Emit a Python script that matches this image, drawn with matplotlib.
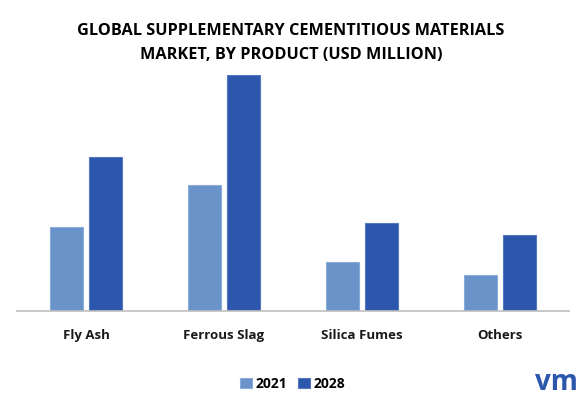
import matplotlib
matplotlib.use("Agg")
import matplotlib.pyplot as plt
import numpy as np

products = ["Fly Ash", "Ferrous Slag", "Silica Fumes", "Others"]
years = ["2021", "2028"]
values_2021 = [84, 126, 49, 36]
values_2028 = [154, 236, 88, 76]

colors = ["#6993C9", "#2D56AD"]
edge_colors = ["#8AADDA", "#5577C0"]

plt.rcParams['font.family'] = ['Open Sans', 'DejaVu Sans']

fig = plt.figure(figsize=(5.82, 3.98), dpi=100)
ax = fig.add_axes([17 / 582, 1 - 311 / 398, 552 / 582, 236 / 398])

x = np.arange(len(products))
width = 0.239
offset = 0.138
ax.bar(x - offset, values_2021, width, color=colors[0], edgecolor=edge_colors[0],
       linewidth=0.8, label=years[0])
ax.bar(x + offset, values_2028, width, color=colors[1], edgecolor=edge_colors[1],
       linewidth=0.8, label=years[1])

ax.set_xlim(-0.5, len(products) - 0.5)
ax.set_ylim(0, 236)
ax.set_xticks(x)
ax.set_xticklabels(products, fontsize=9.5, fontweight='bold', color='#1a1a1a')
ax.tick_params(axis='x', length=0, pad=13)
ax.set_yticks([])
for side in ['top', 'right', 'left']:
    ax.spines[side].set_visible(False)
ax.spines['bottom'].set_color('#bfbfbf')
ax.spines['bottom'].set_linewidth(1.2)

fig.text(0.5, 1 - 31 / 398, "GLOBAL SUPPLEMENTARY CEMENTITIOUS MATERIALS",
         ha='center', va='center', fontsize=11.7, fontweight='bold', color='black')
fig.text(0.5, 1 - 55 / 398, "MARKET, BY PRODUCT (USD MILLION)",
         ha='center', va='center', fontsize=11.7, fontweight='bold', color='black')

fig.legend(loc='center', bbox_to_anchor=(293 / 582, 1 - 384 / 398), ncol=2,
           frameon=False, prop={'weight': 'bold', 'size': 10},
           handlelength=0.8, handleheight=0.8, handletextpad=0.3, columnspacing=0.8)

# logo
fig.text(556 / 582, 1 - 383 / 398, "vm", ha='center', va='center', fontsize=20,
         color='#2D56AD', fontweight='bold')

fig.savefig("out.png", dpi=100)
